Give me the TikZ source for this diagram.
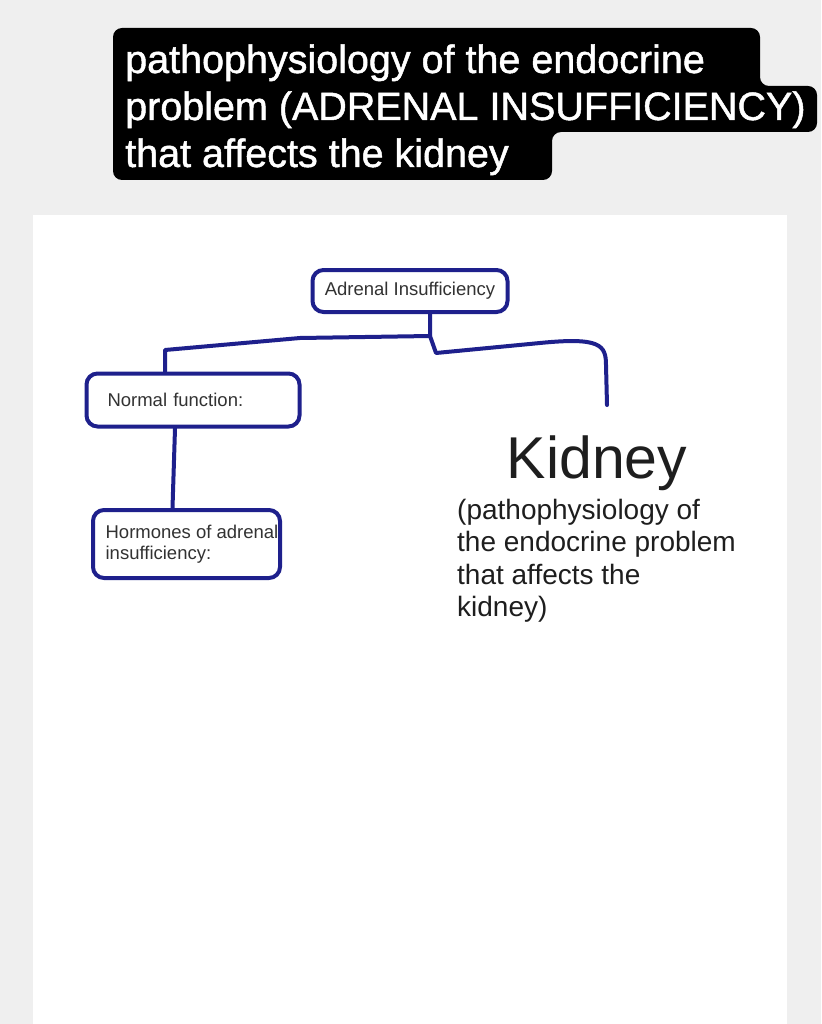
\documentclass[tikz,border=0pt]{standalone}
\usepackage{fontspec}
\setmainfont{Liberation Sans}
\newfontfamily\ttlfont[FakeBold=1.2]{Liberation Sans}
\definecolor{bgc}{RGB}{239,239,239}
\definecolor{pen}{RGB}{30,32,140}
\definecolor{txt}{RGB}{50,50,50}
\definecolor{dark}{RGB}{30,30,30}
\begin{document}
\begin{tikzpicture}[x=1pt,y=-1pt,
  hand/.style={draw=pen, line width=4pt, rounded corners=11pt, inner sep=0pt, text=txt, font=\fontsize{18.5}{21}\selectfont},
  conn/.style={draw=pen, line width=4pt, line cap=round, line join=round},
  ttl/.style={text=white, inner sep=0pt, anchor=base west, font=\ttlfont\fontsize{39.5}{44}\selectfont}]
\useasboundingbox (0,0) rectangle (821,1024);
\fill[bgc] (0,0) rectangle (821,1024);
\fill[white] (33,215) rectangle (787,1024);
% title
\fill[black, rounded corners=9pt] (113,28) -- (760,28) -- (760,86) -- (817,86) -- (817,132) -- (552,132) -- (552,180) -- (113,180) -- cycle;
\node[ttl] (t1) at (125,73) {pathophysiology of the endocrine};
\node[ttl] (t2) at (125,120) {problem (ADRENAL INSUFFICIENCY)};
\node[ttl] (t3) at (125,167) {that affects the kidney};
% boxes
\node[hand, minimum width=195pt, minimum height=42pt] (ai) at (410,291) {Adrenal Insufficiency};
\node[hand, minimum width=213pt, minimum height=53pt, text width=171pt, inner xsep=21pt, align=left] (nf) at (193,400) {Normal function:};
\node[hand, minimum width=187pt, minimum height=68pt, align=left] (hm) at (186.5,544)
  {\hspace*{11pt}Hormones of adrenal\\\hspace*{11pt}insufficiency:};
% kidney
\node[anchor=base, text=dark, inner sep=0pt, font=\fontsize{59}{62}\selectfont] (kid) at (597,478) {Kidney};
\node[anchor=north west, text=dark, inner sep=0pt, align=left, font=\fontsize{28}{32.5}\selectfont] (kidtxt) at (457,499)
  {(pathophysiology of\\the endocrine problem\\that affects the\\kidney)};
% connectors
\coordinate (j) at (430,336);
\coordinate (kend) at (607,405);
\draw[conn] ([xshift=20pt]ai.south) -- (j) -- (300,338) -- (165,350) -- ([xshift=-28pt]nf.north);
\draw[conn] (j) -- (436,353) -- (540,343) .. controls (600,337) and (606,345) .. (606,365) -- (kend);
\draw[conn] ([xshift=-18pt]nf.south) -- ([xshift=-14pt]hm.north);
\end{tikzpicture}
\end{document}
